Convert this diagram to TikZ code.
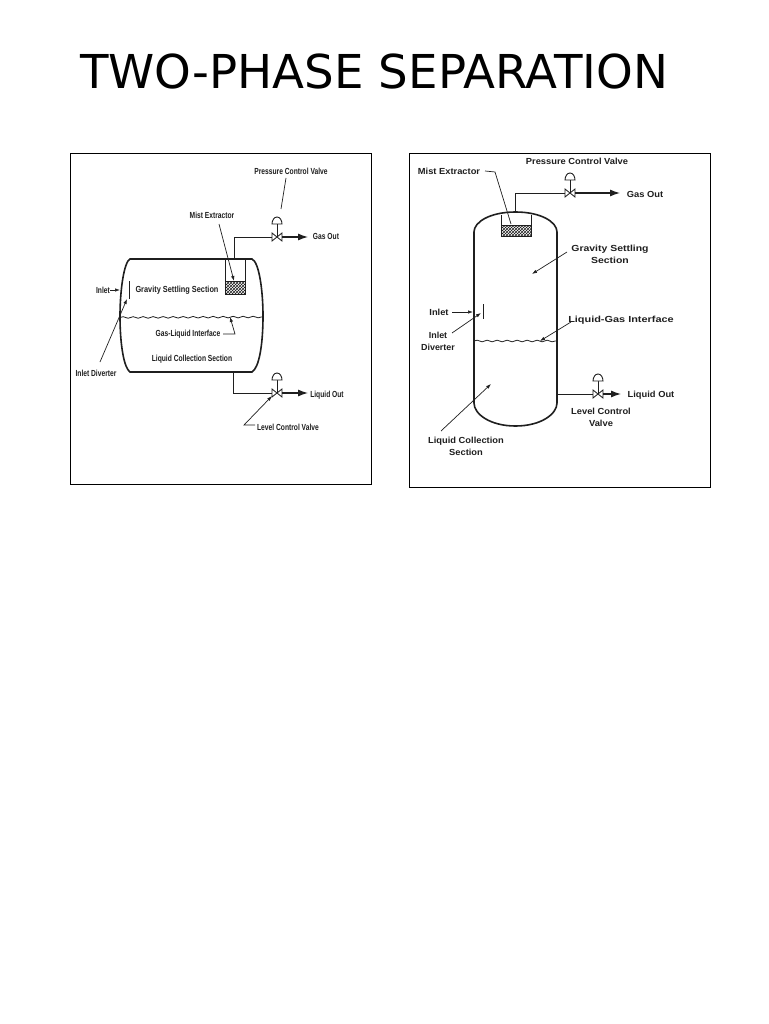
\documentclass[tikz,border=0pt]{standalone}
\usepackage{fontspec}
\setmainfont{Liberation Sans}
\newfontfamily\titlefont{DejaVu Sans}
\usetikzlibrary{arrows.meta,decorations.pathmorphing,patterns}
\definecolor{ink}{gray}{0.12}
\tikzset{
  panel/.style={draw=black,line width=0.8pt,fill=white},
  vessel/.style={draw=ink,line width=1.6pt},
  pipe/.style={draw=ink,line width=0.9pt},
  flow/.style={draw=ink,line width=1.2pt,-{Latex[length=10pt,width=7pt]}},
  lead/.style={draw=ink,line width=0.7pt},
  leadarrow/.style={lead,-{Latex[length=5pt,width=3.5pt]}},
  wave/.style={draw=ink,line width=0.8pt,decorate,decoration={snake,amplitude=0.8pt,segment length=10pt}},
  lab/.style={inner sep=0pt,text=ink,font=\fontsize{8.8}{10}\selectfont\bfseries,xscale=0.76,align=center},
  labr/.style={inner sep=0pt,text=ink,font=\fontsize{8.8}{12}\selectfont\bfseries,xscale=1.06,align=center},
  valve/.pic={
    \draw[line width=0.8pt,draw=ink,fill=white] (-5,-4) -- (5,4) -- (5,-4) -- (-5,4) -- cycle;
    \draw[line width=0.8pt,draw=ink] (0,0) -- (0,-13);
    \draw[line width=0.9pt,draw=ink,fill=white] (-5,-13) arc[start angle=180,end angle=360,x radius=5,y radius=7] -- cycle;
  }
}
\begin{document}
\begin{tikzpicture}[x=1pt,y=-1pt]
\useasboundingbox (0,0) rectangle (768,1024);
\fill[white] (0,0) rectangle (768,1024);
\node[inner sep=0pt,font=\titlefont\fontsize{46.7}{50}\selectfont,text=black] (title) at (374,72) {TWO-PHASE SEPARATION};

% ---------- left panel
\node[panel,minimum width=301pt,minimum height=330pt,inner sep=0pt,anchor=north west] (framea) at (70,153.5) {};
\draw[vessel] (130,259) -- (252,259) .. controls (259,262) and (263,290) .. (263,316) .. controls (263,345) and (259,368) .. (252,372) -- (130,372) .. controls (124,368) and (120,345) .. (120,316) .. controls (120,290) and (124,262) .. (130,259) -- cycle;
\draw[wave] (120,317.5) -- (263,317);
\draw[lead] (225,259) -- (225,294) (245,259) -- (245,294);
\node[draw=ink,line width=0.8pt,pattern=crosshatch,pattern color=ink,minimum width=20pt,minimum height=13pt,inner sep=0pt,anchor=north west] (mesha) at (225,281) {};
\coordinate (gasa) at (234,259);
\pic at (277,237) {valve};
\coordinate (valvega) at (272,237);
\coordinate (valvega2) at (282,237);
\coordinate (gasenda) at (308,237);
\draw[pipe] (gasa) |- (valvega);
\draw[flow] (valvega2) -- (gasenda);
\coordinate (lqa) at (233,372);
\pic at (277,393) {valve};
\coordinate (valvela) at (272,393);
\coordinate (valvela2) at (282,393);
\coordinate (lqenda) at (308,393);
\draw[pipe] (lqa) |- (valvela);
\draw[flow] (valvela2) -- (lqenda);
\node[lab] (pcva) at (291,171) {Pressure Control Valve};
\node[lab] (gasouta) at (326,236) {Gas Out};
\node[lab] (mista) at (212,215) {Mist Extractor};
\node[lab] (inleta) at (103,290) {Inlet};
\node[lab,xscale=1.1] (gravitya) at (177,290) {Gravity Settling Section};
\node[lab] (ifacea) at (188,334) {Gas-Liquid Interface};
\node[lab] (lcsa) at (192,359) {Liquid Collection Section};
\node[lab] (diva) at (96,373) {Inlet Diverter};
\node[lab] (lqouta) at (327,395) {Liquid Out};
\node[lab] (lcva) at (288,427) {Level Control Valve};
\coordinate (pcvt) at (281,209);
\draw[lead] (286,178) -- (pcvt);
\coordinate (mistt) at (234,281);
\draw[leadarrow] (219,224) -- (mistt);
\coordinate (inlt) at (120,290);
\draw[leadarrow] (110,290) -- (inlt);
\coordinate (divl1) at (129,281);
\coordinate (divl2) at (129,299);
\draw[lead,line width=0.9pt] (divl1) -- (divl2);
\coordinate (divt) at (127,299);
\draw[leadarrow] (100,362) -- (divt);
\coordinate (ift) at (230,317);
\draw[leadarrow] (223,334) -- (235,334) -- (ift);
\coordinate (lct) at (272,396);
\draw[leadarrow] (255,425) -- (244,425) -- (lct);

% ---------- right panel
\node[panel,minimum width=301pt,minimum height=333pt,inner sep=0pt,anchor=north west] (frameb) at (409,153.5) {};
\draw[vessel] (474,232) .. controls (474,222) and (490,212) .. (515.5,212) .. controls (541,212) and (557,222) .. (557,232) -- (557,403) .. controls (557,414) and (541,426) .. (515.5,426) .. controls (490,426) and (474,414) .. (474,403) -- cycle;
\draw[wave] (474,341) -- (557,341);
\draw[lead] (501,215) -- (501,236) (531,215) -- (531,236);
\node[draw=ink,line width=0.9pt,pattern=crosshatch,pattern color=ink,minimum width=30pt,minimum height=11pt,inner sep=0pt,anchor=north west] (meshb) at (501,225) {};
\coordinate (gasb) at (515,212);
\pic at (570,193) {valve};
\coordinate (valvegb) at (565,193);
\coordinate (valvegb2) at (575,193);
\coordinate (gasendb) at (620,193);
\draw[pipe] (gasb) |- (valvegb);
\draw[flow] (valvegb2) -- (gasendb);
\coordinate (lqb) at (557,394);
\pic at (598,394) {valve};
\coordinate (valvelb) at (593,394);
\coordinate (valvelb2) at (603,394);
\coordinate (lqendb) at (621,394);
\draw[pipe] (lqb) -- (valvelb);
\draw[flow] (valvelb2) -- (lqendb);
\node[labr] (pcvb) at (577,161) {Pressure Control Valve};
\node[labr] (mistb) at (449,171) {Mist Extractor};
\node[labr] (gasoutb) at (645,194) {Gas Out};
\node[labr,xscale=1.12] (gravityb) at (610,254.5) {Gravity Settling\\Section};
\node[labr] (inletb) at (439,312) {Inlet};
\node[labr,xscale=0.96] (divb) at (438,341.5) {Inlet\\Diverter};
\node[labr,xscale=1.17] (ifaceb) at (621,320) {Liquid-Gas Interface};
\node[labr] (lqoutb) at (651,395) {Liquid Out};
\node[labr] (lcvb) at (601,417.5) {Level Control\\Valve};
\node[labr] (lcsb) at (466,446.5) {Liquid Collection\\Section};
\coordinate (mtb) at (511,224);
\draw[lead] (485,171) -- (495,172) -- (mtb);
\coordinate (grt) at (532,274);
\draw[leadarrow] (567,252) -- (grt);
\coordinate (ilt) at (473,312);
\draw[leadarrow] (452,312) -- (ilt);
\coordinate (dvb1) at (483,304);
\coordinate (dvb2) at (483,319);
\draw[lead,line width=0.9pt] (dvb1) -- (dvb2);
\coordinate (dvt) at (481,313);
\draw[leadarrow] (452,333) -- (dvt);
\coordinate (ifb) at (540,341);
\draw[leadarrow] (571,322) -- (ifb);
\coordinate (lcb) at (491,384);
\draw[leadarrow] (441,431) -- (lcb);
\end{tikzpicture}
\end{document}
